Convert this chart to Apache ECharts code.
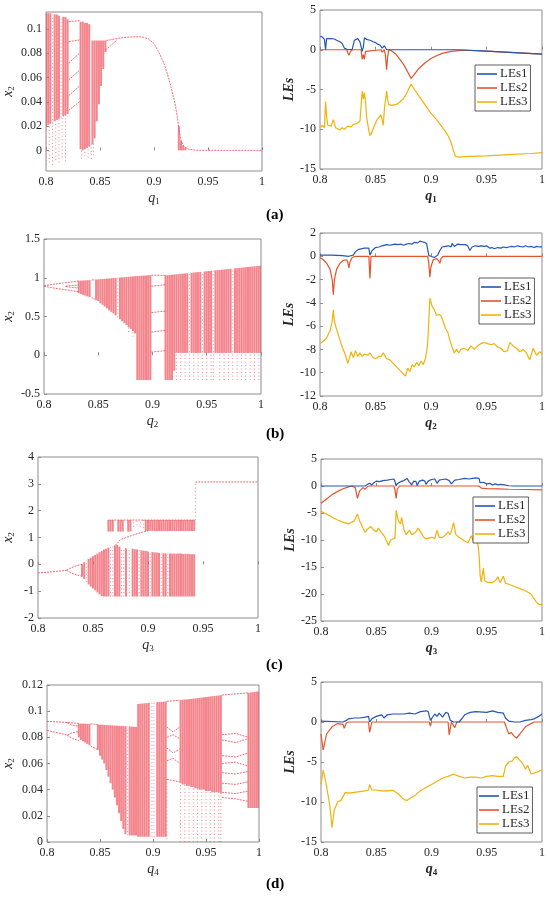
<!DOCTYPE html>
<html><head><meta charset="utf-8">
<script src="https://cdn.jsdelivr.net/npm/echarts@6/dist/echarts.min.js"></script>
<style>html,body{margin:0;padding:0;background:#fff}#c{width:550px;height:898px}</style>
</head><body><div id="c"></div>
<script>
// ---------- DATA ----------
const qTicks = [0.8, 0.85, 0.9, 0.95, 1];
const legendNames = ['LEs1', 'LEs2', 'LEs3'];
const panelLabels = ['(a)', '(b)', '(c)', '(d)'];

// Bifurcation panel (a): dense chaotic strips [q, low, high]
const aDense = [[0.800,0.020,0.113],[0.802,0.021,0.113],[0.804,0.022,0.113],[0.808,0.024,0.112],[0.810,0.025,0.112],[0.812,0.026,0.111],[0.816,0.028,0.110],[0.818,0.029,0.110],[0.820,0.030,0.108],
[0.832,0.001,0.106],[0.834,0.000,0.106],[0.836,0.001,0.105],[0.838,0.002,0.105],[0.840,0.003,0.104],
[0.843,0.005,0.0905],[0.845,0.010,0.0905],[0.847,0.024,0.0905],[0.849,0.038,0.0905],[0.851,0.053,0.0905],[0.853,0.067,0.0905],[0.855,0.081,0.0905],
[0.923,0.000,0.020],[0.925,0.000,0.008],[0.927,0.000,0.004],[0.929,0.000,0.002]];
const aSparse = [[0.800,-0.012,0.020],[0.803,-0.010,0.021],[0.806,-0.012,0.023],[0.809,-0.008,0.024],[0.812,-0.010,0.026],[0.815,-0.006,0.027],[0.818,-0.009,0.029],[0.806,0.022,0.112],[0.814,0.027,0.110],[0.833,-0.007,0.001],[0.836,-0.005,0.001],[0.839,-0.006,0.002],[0.842,-0.007,0.005],[0.844,-0.004,0.008]];
const aBranches = [
 [[0.856,0.0905],[0.86,0.0912],[0.865,0.092],[0.87,0.0927],[0.875,0.0932],[0.88,0.0935],[0.886,0.0936],[0.89,0.0932],[0.895,0.0918],[0.9,0.088],[0.905,0.080],[0.91,0.070],[0.915,0.055],[0.918,0.044],[0.92,0.036],[0.922,0.025],[0.923,0.018],[0.925,0.008],[0.928,0.003],[0.932,0.001],[0.94,0],[1.0,0]],
 [[0.821,0.106],[0.831,0.107]],
 [[0.821,0.0895],[0.831,0.091]],
 [[0.821,0.072],[0.831,0.080]],
 [[0.821,0.058],[0.831,0.066]],
 [[0.821,0.045],[0.831,0.053]],
 [[0.821,0.033],[0.831,0.040]],
 [[0.855,0.0826],[0.859,0.0855],[0.862,0.088],[0.866,0.0912]]
];

// Bifurcation panel (b)
const bDense = [[0.832,0.80,0.960],[0.834,0.79,0.962],[0.836,0.78,0.964],[0.838,0.77,0.966],[0.840,0.76,0.968],[0.842,0.75,0.970],
[0.848,0.71,0.977],[0.850,0.70,0.980],[0.852,0.67,0.982],[0.854,0.65,0.984],[0.856,0.63,0.986],[0.858,0.605,0.989],[0.860,0.58,0.991],[0.862,0.56,0.993],[0.864,0.54,0.996],[0.866,0.515,0.998],
[0.870,0.465,1.003],[0.872,0.44,1.005],[0.874,0.415,1.007],[0.876,0.39,1.010],[0.878,0.365,1.012],[0.880,0.34,1.015],[0.882,0.31,1.017],[0.884,0.28,1.020],
[0.886,-0.32,1.022],[0.888,-0.32,1.024],[0.890,-0.32,1.026],[0.892,-0.32,1.028],[0.894,-0.32,1.030],[0.896,-0.32,1.032],[0.898,-0.32,1.034],
[0.912,-0.32,1.030],[0.914,-0.32,1.033],[0.916,-0.32,1.036],[0.918,-0.32,1.039],[0.920,-0.20,1.042],[0.922,0.03,1.045],[0.924,0.03,1.047],[0.926,0.03,1.050],[0.928,0.03,1.053],[0.930,0.03,1.056],[0.932,0.03,1.059],
[0.936,0.03,1.064],[0.938,0.03,1.067],[0.940,0.03,1.070],[0.942,0.03,1.073],[0.944,0.03,1.076],[0.948,0.03,1.081],[0.950,0.03,1.084],[0.952,0.03,1.087],[0.954,0.03,1.090],
[0.958,0.03,1.096],[0.960,0.03,1.099],[0.962,0.03,1.101],[0.964,0.03,1.104],[0.966,0.03,1.107],[0.968,0.03,1.110],[0.970,0.03,1.113],[0.972,0.03,1.116],
[0.976,0.03,1.121],[0.978,0.03,1.124],[0.980,0.03,1.127],[0.982,0.03,1.130],[0.984,0.03,1.133],[0.986,0.03,1.136],[0.988,0.03,1.139],[0.990,0.03,1.142],[0.992,0.03,1.145],[0.994,0.03,1.148],[0.996,0.03,1.151],[0.998,0.03,1.153],[1.000,0.03,1.155]];
const bSparse = [[0.868,0.49,1.0],[0.878,0.3,0.37],[0.882,0.24,0.31],[0.922,-0.32,0.03],[0.926,-0.32,0.03],[0.930,-0.32,0.03],[0.934,-0.32,1.06],[0.938,-0.32,0.03],[0.942,-0.32,0.03],[0.946,-0.32,1.08],[0.950,-0.32,0.03],[0.954,-0.32,0.03],[0.956,-0.32,1.09],[0.962,-0.32,0.03],[0.966,-0.32,0.03],[0.970,-0.32,0.03],[0.974,-0.32,1.118],[0.978,-0.32,0.03],[0.982,-0.32,0.03],[0.986,-0.32,0.03],[0.990,-0.32,0.03],[0.994,-0.32,0.03],[0.998,-0.32,0.03]];
const bBranches = [
 [[0.8,0.895],[0.806,0.91],[0.812,0.922],[0.818,0.933],[0.824,0.943],[0.832,0.958]],
 [[0.8,0.893],[0.806,0.875],[0.812,0.86],[0.818,0.848],[0.824,0.835],[0.832,0.82]],
 [[0.82,0.893],[0.826,0.9],[0.832,0.905]],
 [[0.82,0.887],[0.826,0.875],[0.832,0.868]],
 [[0.844,0.97],[0.847,0.975]],[[0.844,0.745],[0.847,0.72]],
 [[0.899,1.034],[0.912,1.03]],
 [[0.899,0.89],[0.905,0.9],[0.912,0.91]],
 [[0.899,0.55],[0.905,0.56],[0.912,0.57]],
 [[0.899,0.30],[0.905,0.31],[0.912,0.32]],
 [[0.899,0.04],[0.905,0.05],[0.912,0.06]]
];

// Bifurcation panel (c)
const cDense = [[0.840,-0.45,0.00],[0.842,-0.55,0.08],[0.846,-0.75,0.20],[0.848,-0.83,0.25],[0.850,-0.90,0.30],[0.852,-0.97,0.35],[0.854,-1.05,0.40],[0.856,-1.12,0.45],[0.858,-1.18,0.50],[0.860,-1.20,0.55],[0.862,-1.20,0.58],[0.864,-1.20,0.62],
[0.870,-1.20,0.70],[0.872,-1.20,0.72],[0.874,-1.20,0.66],[0.880,-1.20,0.60],[0.886,-1.20,0.58],[0.888,-1.20,0.56],[0.890,-1.20,0.55],[0.894,-1.20,0.52],[0.896,-1.20,0.51],[0.898,-1.20,0.50],[0.900,-1.20,0.48],
[0.904,-1.20,0.46],[0.906,-1.20,0.45],[0.908,-1.20,0.44],[0.910,-1.20,0.42],[0.914,-1.20,0.41],[0.916,-1.20,0.41],[0.920,-1.20,0.40],[0.922,-1.20,0.40],[0.924,-1.20,0.40],[0.926,-1.20,0.40],[0.928,-1.20,0.40],[0.930,-1.20,0.40],[0.932,-1.20,0.39],[0.934,-1.20,0.39],[0.936,-1.20,0.39],[0.938,-1.20,0.38],[0.940,-1.20,0.38],[0.942,-1.20,0.38],
[0.864,1.22,1.65],[0.866,1.22,1.65],[0.868,1.22,1.65],[0.873,1.22,1.65],[0.875,1.22,1.65],[0.877,1.22,1.65],[0.882,1.22,1.65],[0.884,1.22,1.65],
[0.898,1.24,1.65],[0.900,1.25,1.65],[0.902,1.25,1.65],[0.904,1.25,1.65],[0.906,1.24,1.65],[0.908,1.24,1.65],[0.910,1.24,1.65],[0.912,1.24,1.65],[0.914,1.24,1.65],[0.916,1.24,1.65],[0.918,1.24,1.65],[0.920,1.24,1.65],[0.922,1.24,1.65],[0.924,1.24,1.65],[0.926,1.24,1.65],[0.928,1.24,1.65],[0.930,1.24,1.65],[0.932,1.24,1.65],[0.934,1.24,1.65],[0.936,1.24,1.65],[0.938,1.24,1.65],[0.940,1.24,1.65],[0.942,1.24,1.65]];
const cSparse = [[0.844,-0.65,0.15],[0.866,-1.20,0.65],[0.868,-1.20,0.68],[0.876,-1.20,0.62],[0.878,-1.20,0.61],[0.883,-1.20,0.59],[0.892,-1.20,0.53],[0.902,-1.20,0.47],[0.912,-1.20,0.42],[0.918,-1.20,0.40],[0.887,1.40,1.65],[0.890,1.45,1.65],[0.893,1.40,1.65],[0.896,1.35,1.65],[0.943,1.65,3.07]];
const cBranches = [
 [[0.8,-0.32],[0.81,-0.29],[0.82,-0.25],[0.826,-0.22]],
 [[0.826,-0.22],[0.83,-0.13],[0.835,-0.05],[0.84,0.0]],
 [[0.826,-0.22],[0.83,-0.32],[0.835,-0.39],[0.84,-0.45]],
 [[0.943,3.07],[1.0,3.07]],
 [[0.87,0.70],[0.875,0.92],[0.88,1.0],[0.885,1.07],[0.89,1.14],[0.895,1.2],[0.9,1.25]],
 [[0.864,1.65],[0.943,1.65]]
];

// Bifurcation panel (d)
const dDense = [[0.830,0.080,0.0905],[0.832,0.078,0.0905],[0.834,0.077,0.0905],[0.836,0.076,0.0905],[0.838,0.075,0.0903],[0.840,0.074,0.0903],
[0.848,0.0705,0.0898],[0.850,0.066,0.0897],[0.852,0.063,0.0896],[0.854,0.060,0.0895],[0.856,0.055,0.0894],[0.858,0.050,0.0893],[0.860,0.045,0.0892],[0.862,0.040,0.0891],[0.864,0.034,0.089],[0.866,0.028,0.0889],[0.868,0.022,0.0888],[0.870,0.016,0.0887],[0.872,0.010,0.0886],[0.874,0.006,0.0885],[0.878,0.005,0.0883],[0.880,0.005,0.0882],[0.882,0.005,0.0881],[0.884,0.005,0.088],
[0.886,0.004,0.1055],[0.888,0.004,0.1057],[0.890,0.004,0.1058],[0.892,0.004,0.106],[0.894,0.004,0.1061],[0.896,0.004,0.1063],[0.904,0.004,0.1068],[0.906,0.004,0.107],[0.908,0.004,0.1071],[0.910,0.004,0.1073],[0.912,0.004,0.1074],
[0.926,0.045,0.1085],[0.928,0.044,0.1087],[0.930,0.044,0.1089],[0.932,0.043,0.109],[0.934,0.043,0.1092],[0.936,0.042,0.1094],[0.938,0.042,0.1096],[0.940,0.041,0.1098],[0.942,0.041,0.11],[0.944,0.040,0.1102],[0.946,0.040,0.1104],[0.948,0.040,0.1106],[0.950,0.039,0.1108],[0.952,0.039,0.111],[0.954,0.039,0.1112],[0.956,0.038,0.1114],[0.958,0.038,0.1116],[0.960,0.038,0.1118],[0.962,0.038,0.112],[0.964,0.037,0.1122],
[0.990,0.026,0.114],[0.992,0.026,0.1143],[0.994,0.026,0.1145],[0.996,0.026,0.1147],[0.998,0.026,0.115],[1.000,0.026,0.115]];
const dSparse = [[0.876,0.005,0.0884],[0.899,0.004,0.1065],[0.901,0.004,0.1066],[0.913,0.002,0.05],[0.926,0.0,0.045],[0.930,0.0,0.044],[0.934,0.0,0.043],[0.938,0.0,0.042],[0.942,0.0,0.041],[0.946,0.0,0.040],[0.950,0.0,0.039],[0.954,0.0,0.039],[0.958,0.0,0.038],[0.962,0.0,0.038],[0.964,0.0,0.037]];
const dBranches = [
 [[0.8,0.0922],[0.81,0.0918],[0.82,0.0913],[0.83,0.0907]],
 [[0.819,0.0912],[0.824,0.0893],[0.83,0.0885]],
 [[0.8,0.0853],[0.81,0.0835],[0.819,0.0818],[0.824,0.0835],[0.83,0.0845]],
 [[0.819,0.0818],[0.824,0.079],[0.83,0.0775]],
 [[0.841,0.0903],[0.848,0.0898]],[[0.841,0.0735],[0.848,0.0705]],
 [[0.913,0.1075],[0.925,0.1083]],
 [[0.913,0.088],[0.919,0.084],[0.925,0.088]],
 [[0.913,0.080],[0.919,0.082],[0.925,0.079]],
 [[0.913,0.072],[0.919,0.068],[0.925,0.071]],
 [[0.913,0.062],[0.919,0.064],[0.925,0.060]],
 [[0.913,0.048],[0.925,0.046]],
 [[0.965,0.1123],[0.99,0.114]],
 [[0.965,0.082],[0.978,0.083],[0.99,0.080]],
 [[0.965,0.078],[0.978,0.076],[0.99,0.079]],
 [[0.965,0.066],[0.978,0.065],[0.99,0.068]],
 [[0.965,0.060],[0.978,0.061],[0.99,0.058]],
 [[0.965,0.053],[0.978,0.052],[0.99,0.054]],
 [[0.965,0.045],[0.978,0.044],[0.99,0.046]],
 [[0.965,0.038],[0.978,0.037],[0.99,0.039]],
 [[0.965,0.034],[0.978,0.033],[0.99,0.031]]
];

// Lyapunov exponents [q, value]
const leA1 = [[0.8,1.7],[0.802,1.6],[0.804,1.3],[0.805,0.0],[0.806,1.4],[0.81,1.4],[0.813,1.35],[0.815,1.2],[0.818,1.0],[0.82,0.8],[0.822,0.2],[0.825,0.0],[0.829,0.05],[0.831,1.2],[0.834,1.4],[0.836,1.0],[0.838,-0.2],[0.839,0.3],[0.84,1.5],[0.842,1.3],[0.845,1.2],[0.848,1.0],[0.85,0.9],[0.852,0.7],[0.854,0.6],[0.856,0.2],[0.858,0.5],[0.86,0.0],[0.925,0.0],[0.95,-0.17],[0.975,-0.36],[1.0,-0.55]];
const leA2 = [[0.8,0],[0.824,0],[0.826,-0.7],[0.828,-0.1],[0.83,0],[0.837,0],[0.838,-1.2],[0.839,-0.6],[0.84,-1.2],[0.841,-0.2],[0.842,0],[0.855,0],[0.856,-0.3],[0.858,0],[0.859,-0.8],[0.86,-2.5],[0.861,-0.8],[0.862,0],[0.864,-0.1],[0.868,-0.5],[0.872,-1.2],[0.876,-2.0],[0.879,-2.8],[0.882,-3.6],[0.885,-3.1],[0.889,-2.35],[0.895,-1.6],[0.9,-1.1],[0.905,-0.75],[0.91,-0.46],[0.915,-0.3],[0.92,-0.18],[0.925,-0.1],[0.93,-0.06],[0.95,-0.17],[0.975,-0.36],[1.0,-0.55]];
const leA3 = [[0.8,-9.8],[0.802,-9.5],[0.804,-9.8],[0.805,-6.5],[0.806,-8.5],[0.807,-9.5],[0.81,-9.6],[0.812,-8.8],[0.814,-9.8],[0.818,-10.1],[0.82,-9.8],[0.822,-10.0],[0.825,-9.6],[0.828,-9.7],[0.83,-9.4],[0.833,-9.3],[0.836,-9.0],[0.837,-8.8],[0.838,-5.2],[0.839,-6.2],[0.84,-5.4],[0.841,-6.5],[0.842,-8.5],[0.844,-10.2],[0.845,-10.8],[0.847,-10.3],[0.849,-9.6],[0.851,-8.9],[0.853,-8.5],[0.855,-8.2],[0.856,-8.0],[0.857,-9.5],[0.858,-7.5],[0.86,-5.2],[0.861,-6.3],[0.862,-6.9],[0.865,-7.0],[0.87,-6.8],[0.875,-6.2],[0.878,-5.5],[0.88,-4.9],[0.882,-4.3],[0.885,-5.0],[0.89,-6.0],[0.895,-7.0],[0.9,-8.0],[0.905,-8.8],[0.91,-9.7],[0.915,-10.7],[0.918,-11.6],[0.92,-12.6],[0.922,-13.4],[0.925,-13.5],[0.93,-13.45],[0.95,-13.35],[0.97,-13.2],[0.99,-13.05],[1.0,-12.95]];

const leB1 = [[0.8,0.1],[0.81,0.1],[0.82,0.05],[0.826,0.0],[0.83,0.1],[0.832,0.4],[0.835,0.6],[0.84,0.7],[0.844,0.7],[0.845,0.1],[0.847,0.5],[0.85,0.75],[0.853,0.8],[0.856,0.9],[0.86,1.0],[0.863,0.95],[0.865,1.0],[0.868,1.05],[0.87,1.0],[0.873,1.05],[0.875,0.95],[0.878,1.05],[0.88,1.1],[0.883,1.05],[0.885,1.2],[0.888,1.15],[0.89,1.3],[0.892,1.25],[0.894,1.2],[0.896,1.1],[0.897,0.6],[0.898,0.05],[0.9,0.0],[0.903,-0.1],[0.906,0.1],[0.908,0.5],[0.91,0.8],[0.913,0.85],[0.916,0.9],[0.918,0.8],[0.919,1.1],[0.921,0.85],[0.922,0.95],[0.924,1.05],[0.925,0.9],[0.927,1.0],[0.928,0.85],[0.931,1.0],[0.933,0.9],[0.935,0.5],[0.937,0.8],[0.94,0.9],[0.943,0.85],[0.945,0.9],[0.948,0.85],[0.95,0.9],[0.953,0.7],[0.955,0.75],[0.957,0.65],[0.96,0.75],[0.963,0.7],[0.965,0.8],[0.968,0.75],[0.97,0.8],[0.973,0.85],[0.975,0.8],[0.978,0.9],[0.98,0.85],[0.983,0.8],[0.985,0.9],[0.988,0.8],[0.99,0.85],[0.993,0.75],[0.995,0.85],[0.998,0.8],[1.0,0.8]];
const leB2 = [[0.8,-0.1],[0.803,-0.3],[0.806,-0.6],[0.809,-1.1],[0.811,-2.0],[0.812,-3.3],[0.813,-2.0],[0.815,-1.1],[0.818,-0.6],[0.821,-0.35],[0.824,-0.3],[0.825,-0.5],[0.826,-1.0],[0.827,-0.5],[0.829,-0.1],[0.832,0],[0.844,0],[0.845,-1.9],[0.846,0],[0.897,0],[0.898,-0.6],[0.899,-1.8],[0.9,-0.9],[0.902,-0.3],[0.905,-0.2],[0.907,-0.4],[0.908,-0.6],[0.909,-0.2],[0.911,0],[1.0,0]];
const leB3 = [[0.8,-7.5],[0.803,-7.3],[0.806,-7.0],[0.809,-6.4],[0.811,-5.6],[0.812,-4.6],[0.813,-5.6],[0.815,-6.3],[0.818,-7.2],[0.82,-7.8],[0.823,-8.5],[0.825,-9.2],[0.827,-8.6],[0.828,-8.2],[0.83,-8.7],[0.832,-8.1],[0.834,-8.6],[0.836,-8.3],[0.838,-8.6],[0.84,-8.4],[0.843,-8.5],[0.845,-8.3],[0.848,-8.7],[0.85,-8.8],[0.853,-8.6],[0.855,-8.6],[0.857,-8.3],[0.86,-8.8],[0.863,-8.9],[0.866,-9.2],[0.869,-9.5],[0.872,-9.8],[0.875,-10.1],[0.877,-10.3],[0.879,-9.6],[0.881,-9.9],[0.883,-9.3],[0.885,-9.5],[0.887,-9.1],[0.889,-9.4],[0.891,-9.0],[0.893,-9.3],[0.895,-8.8],[0.897,-7.5],[0.899,-3.6],[0.901,-4.3],[0.903,-4.6],[0.905,-5.1],[0.907,-5.0],[0.909,-5.1],[0.911,-5.6],[0.913,-6.2],[0.915,-6.5],[0.917,-7.2],[0.919,-7.8],[0.921,-8.3],[0.923,-8.0],[0.925,-8.3],[0.927,-8.0],[0.93,-7.9],[0.933,-8.1],[0.936,-7.7],[0.939,-8.0],[0.942,-7.7],[0.945,-7.5],[0.948,-7.4],[0.951,-7.5],[0.954,-7.6],[0.957,-7.5],[0.96,-7.8],[0.963,-7.9],[0.966,-8.2],[0.969,-8.1],[0.971,-7.4],[0.974,-7.7],[0.977,-7.9],[0.98,-8.2],[0.983,-8.0],[0.986,-8.3],[0.989,-8.9],[0.992,-7.9],[0.995,-8.5],[0.998,-8.2],[1.0,-8.4]];

const leC1 = [[0.8,0],[0.84,0],[0.842,0.3],[0.844,0.5],[0.846,0.2],[0.848,0.6],[0.85,0.9],[0.853,0.8],[0.856,1.0],[0.86,1.1],[0.863,1.2],[0.866,1.3],[0.867,0.8],[0.868,0.0],[0.869,0.4],[0.872,0.8],[0.875,1.0],[0.878,1.4],[0.88,0.7],[0.882,0.2],[0.884,0.9],[0.886,0.8],[0.887,0.1],[0.889,0.9],[0.892,1.1],[0.894,0.9],[0.895,0.3],[0.897,0.9],[0.9,1.2],[0.903,1.3],[0.905,0.5],[0.907,1.1],[0.91,1.2],[0.913,1.3],[0.916,1.0],[0.918,0.4],[0.919,0.1],[0.921,1.1],[0.925,1.2],[0.93,1.4],[0.934,1.3],[0.937,1.4],[0.94,1.5],[0.943,1.4],[0.944,0.6],[0.947,0.7],[0.95,0.4],[0.953,0.5],[0.955,0.2],[0.958,0.4],[0.96,0.2],[0.963,0.3],[0.966,0.2],[0.97,0.05],[0.975,0.0],[1.0,0.0]];
const leC2 = [[0.8,-3.2],[0.805,-2.4],[0.81,-1.6],[0.815,-1.0],[0.82,-0.5],[0.825,-0.15],[0.828,0],[0.831,-0.3],[0.833,-2.3],[0.835,-0.9],[0.838,-0.3],[0.84,-0.6],[0.842,-0.1],[0.844,0],[0.866,0],[0.867,-0.8],[0.868,-2.3],[0.869,-0.6],[0.871,0],[0.943,0],[0.945,-0.4],[0.95,-0.5],[0.96,-0.55],[0.97,-0.6],[0.985,-0.65],[1.0,-0.7]];
const leC3 = [[0.8,-4.7],[0.805,-5.2],[0.81,-5.8],[0.815,-6.3],[0.82,-6.7],[0.825,-7.0],[0.83,-6.5],[0.833,-5.2],[0.835,-6.5],[0.838,-7.8],[0.84,-8.6],[0.842,-8.0],[0.845,-7.5],[0.848,-8.2],[0.85,-8.5],[0.852,-7.8],[0.855,-8.7],[0.858,-9.5],[0.86,-10.5],[0.861,-11.0],[0.863,-10.0],[0.865,-9.8],[0.867,-9.6],[0.868,-4.5],[0.87,-6.5],[0.872,-7.0],[0.873,-5.8],[0.875,-8.0],[0.877,-9.0],[0.88,-8.2],[0.882,-9.0],[0.885,-8.7],[0.888,-7.8],[0.89,-8.5],[0.893,-9.5],[0.895,-9.8],[0.9,-9.5],[0.903,-9.7],[0.905,-8.2],[0.907,-9.5],[0.91,-9.5],[0.913,-9.0],[0.915,-8.5],[0.917,-9.0],[0.92,-6.8],[0.922,-9.0],[0.925,-9.5],[0.93,-10.2],[0.933,-10.5],[0.936,-9.2],[0.938,-10.3],[0.94,-10.1],[0.942,-10.8],[0.943,-12.5],[0.944,-16.5],[0.945,-17.8],[0.947,-15.2],[0.948,-17.5],[0.95,-17.8],[0.955,-17.9],[0.958,-17.5],[0.96,-16.8],[0.962,-17.9],[0.965,-16.7],[0.967,-18.0],[0.97,-18.2],[0.975,-18.6],[0.98,-19.0],[0.985,-19.4],[0.99,-20.0],[0.995,-21.5],[0.997,-21.9],[1.0,-22.0]];

const leD1 = [[0.8,0.1],[0.82,0.0],[0.823,0.2],[0.825,0.4],[0.83,0.5],[0.835,0.5],[0.84,0.6],[0.843,0.7],[0.844,0.0],[0.846,0.4],[0.85,0.7],[0.855,0.9],[0.857,0.5],[0.86,0.9],[0.865,1.0],[0.87,1.0],[0.875,1.0],[0.88,1.1],[0.885,1.0],[0.89,1.3],[0.895,1.4],[0.897,1.3],[0.899,0.2],[0.9,0.3],[0.903,1.0],[0.905,0.7],[0.907,1.1],[0.91,0.6],[0.913,1.2],[0.915,1.1],[0.917,0.2],[0.92,0.0],[0.925,0.0],[0.928,0.5],[0.93,0.9],[0.935,1.2],[0.94,1.3],[0.95,1.2],[0.955,1.4],[0.96,1.2],[0.965,1.1],[0.967,0.5],[0.97,0.1],[0.975,0.0],[0.98,0.0],[0.985,0.2],[0.99,0.3],[0.993,0.4],[0.997,0.7],[1.0,1.0]];
const leD2 = [[0.8,-1.5],[0.801,-2.5],[0.802,-3.5],[0.805,-1.5],[0.81,-0.6],[0.815,-0.2],[0.82,-0.3],[0.821,-0.8],[0.823,-0.1],[0.825,0],[0.843,0],[0.844,-1.3],[0.846,0],[0.898,0],[0.899,-0.5],[0.9,0],[0.915,0],[0.916,-1.6],[0.918,0],[0.921,-0.7],[0.923,0],[0.966,0],[0.968,-0.8],[0.97,-1.5],[0.972,-1.3],[0.975,-1.8],[0.977,-2.0],[0.98,-1.5],[0.985,-0.6],[0.99,-0.2],[0.993,0],[1.0,0]];
const leD3 = [[0.8,-7.8],[0.802,-6.0],[0.805,-8.0],[0.808,-10.5],[0.81,-13.2],[0.812,-11.0],[0.815,-10.0],[0.818,-9.8],[0.82,-9.3],[0.822,-8.8],[0.825,-8.9],[0.83,-8.8],[0.835,-8.7],[0.84,-8.6],[0.843,-8.5],[0.844,-7.8],[0.846,-8.5],[0.85,-8.5],[0.855,-8.6],[0.86,-8.6],[0.865,-8.5],[0.87,-9.0],[0.875,-9.7],[0.878,-9.8],[0.88,-9.6],[0.885,-9.2],[0.888,-8.8],[0.89,-8.6],[0.895,-8.2],[0.9,-7.8],[0.905,-7.4],[0.91,-7.0],[0.915,-6.8],[0.92,-6.5],[0.925,-6.8],[0.93,-7.0],[0.935,-6.9],[0.94,-6.9],[0.945,-7.0],[0.95,-6.8],[0.955,-6.7],[0.96,-6.8],[0.965,-6.8],[0.967,-5.5],[0.97,-5.0],[0.973,-4.9],[0.975,-4.5],[0.977,-4.3],[0.98,-4.8],[0.983,-5.3],[0.985,-5.9],[0.987,-5.4],[0.99,-6.5],[0.995,-6.3],[1.0,-6.0]];

// ---------- CHART ----------
const SERIF = 'Liberation Serif';
const TXT = '#262626';
const LE_COLORS = ['#2457b3', '#e4532a', '#f2b20c'];

const grids = [
  {left:40, top:12, width:222, height:159},
  {left:320, top:10, width:222, height:159},
  {left:39, top:239, width:222, height:155},
  {left:320, top:233, width:222, height:163},
  {left:32, top:457, width:226, height:161},
  {left:321, top:459, width:221, height:162},
  {left:42, top:685, width:217, height:157},
  {left:321, top:682, width:221, height:160}
].map(g => Object.assign({show:true, borderColor:'#8c8c8c', borderWidth:1, backgroundColor:'#fff'}, g));

const fmt = v => String(parseFloat((+v).toFixed(4)));
function nameRich(bold) {
  return {rich:{
    i:{fontFamily:SERIF, fontStyle:'italic', fontWeight: bold ? 'bold':'normal', fontSize:14, color:TXT},
    s:{fontFamily:SERIF, fontWeight: bold ? 'bold':'normal', fontSize:9, color:TXT, padding:[7,0,0,0]}
  }};
}
const xAxes = [], yAxes = [];
const yRanges = [
  {min:-0.017, max:0.114, custom:[0,0.02,0.04,0.06,0.08,0.1]},
  {min:-15, max:5, interval:5},
  {min:-0.5, max:1.5, interval:0.5},
  {min:-12, max:2, interval:2},
  {min:-2, max:4, interval:1},
  {min:-25, max:5, interval:5},
  {min:0, max:0.12, interval:0.02},
  {min:-15, max:5, interval:5}
];
const yGaps = [30, 23, 28, 24, 22, 24, 31, 23];
for (let i = 0; i < 8; i++) {
  const right = i % 2 === 1;
  const k = Math.floor(i / 2) + 1;
  xAxes.push({
    type:'value', gridIndex:i, min:0.8, max:1, interval:0.05,
    axisLine:{show:false}, splitLine:{show:false},
    axisTick:{inside:true, length:3, lineStyle:{color:'#8c8c8c'}, customValues: qTicks},
    axisLabel:{fontFamily:SERIF, fontSize:12, color:TXT, margin:5, formatter:fmt, customValues: qTicks},
    name:'{i|q}{s|' + k + '}', nameLocation:'middle', nameGap:19, nameTextStyle:nameRich(right)
  });
  const r = yRanges[i];
  const y = {
    type:'value', gridIndex:i, min:r.min, max:r.max,
    axisLine:{show:false}, splitLine:{show:false},
    axisTick:{inside:true, length:3, lineStyle:{color:'#8c8c8c'}},
    axisLabel:{fontFamily:SERIF, fontSize:12, color:TXT, margin:4, formatter:fmt},
    nameLocation:'middle', nameRotate:90, nameGap:yGaps[i]
  };
  if (r.interval) y.interval = r.interval;
  if (r.custom) { y.axisTick.customValues = r.custom; y.axisLabel.customValues = r.custom; }
  if (right) { y.name = '{i|LEs}'; y.nameTextStyle = nameRich(true); }
  else { y.name = '{i|x}{s|2}'; y.nameTextStyle = nameRich(false); }
  yAxes.push(y);
}

function stripSeries(data, gi, sparse) {
  return {
    type:'custom', xAxisIndex:gi, yAxisIndex:gi, data:data, clip:true, silent:true,
    encode:{x:0, y:[1,2]},
    renderItem:(params, api) => {
      const p0 = api.coord([api.value(0), api.value(1)]);
      const p1 = api.coord([api.value(0), api.value(2)]);
      return {type:'line', shape:{x1:p0[0], y1:p0[1], x2:p1[0], y2:p1[1]},
        style: sparse ? {stroke:'rgba(240,80,92,0.7)', lineWidth:1, lineDash:[1,2.5]}
                      : {stroke:'rgba(240,84,96,0.72)', lineWidth:2}};
    }
  };
}
function branchSeries(pts, gi) {
  return {type:'line', xAxisIndex:gi, yAxisIndex:gi, data:pts, symbol:'none', silent:true,
    lineStyle:{color:'rgba(238,72,84,0.8)', width:1, type:[2,1]}, z:3};
}
function leSeries(pts, gi, idx) {
  return {type:'line', name:legendNames[idx], xAxisIndex:gi, yAxisIndex:gi, data:pts, symbol:'none',
    lineStyle:{color:LE_COLORS[idx], width:1.2}, itemStyle:{color:LE_COLORS[idx]}, z:4 - idx};
}

const series = [];
const bif = [[aDense,aSparse,aBranches],[bDense,bSparse,bBranches],[cDense,cSparse,cBranches],[dDense,dSparse,dBranches]];
bif.forEach((b, r) => {
  const gi = r * 2;
  series.push(stripSeries(b[1], gi, true));
  series.push(stripSeries(b[0], gi, false));
  b[2].forEach(p => series.push(branchSeries(p, gi)));
});
const les = [[leA1,leA2,leA3],[leB1,leB2,leB3],[leC1,leC2,leC3],[leD1,leD2,leD3]];
les.forEach((set, r) => {
  const gi = r * 2 + 1;
  set.forEach((pts, idx) => series.push(leSeries(pts, gi, idx)));
});

const legendBoxes = [
  {left:475, top:65},
  {left:479, top:278},
  {left:473, top:497},
  {left:477, top:787}
];
const legends = legendBoxes.map(b => ({
  data:legendNames, orient:'vertical', left:b.left, top:b.top, itemGap:0,
  icon:'rect', itemWidth:20, itemHeight:1.6, selectedMode:false,
  backgroundColor:'#fff', borderColor:'#333', borderWidth:0.8, padding:[2,3,2,2],
  textStyle:{fontFamily:SERIF, fontSize:13, color:TXT, lineHeight:14, padding:[0,0,0,-2]}
}));

const labelY = [217, 436, 667, 886];
const graphic = panelLabels.map((t, i) => ({
  type:'text', left:266, top:labelY[i] - 9, style:{text:t, font:'bold 15px "Liberation Serif"', fill:'#000'}
}));

const chart = echarts.init(document.getElementById('c'), null, {renderer:'canvas'});
chart.setOption({
  animation:false, backgroundColor:'#fff',
  grid:grids, xAxis:xAxes, yAxis:yAxes, series:series, legend:legends, graphic:graphic
});
</script></body></html>
